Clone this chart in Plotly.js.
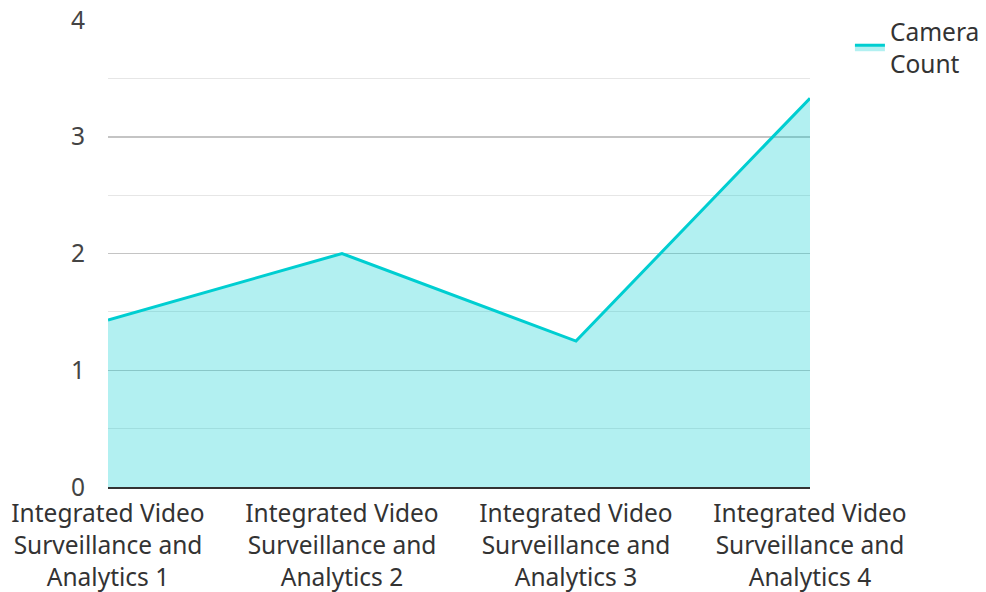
<!DOCTYPE html>
<html>
<head>
<meta charset="utf-8">
<script src="https://cdn.plot.ly/plotly-3.0.1.min.js"></script>
<style>html,body{margin:0;padding:0;background:#fff;}#chart{width:986px;height:592px;}</style>
</head>
<body>
<div id="chart"></div>
<script>
const categories = [
  "Integrated Video<br>Surveillance and<br>Analytics 1",
  "Integrated Video<br>Surveillance and<br>Analytics 2",
  "Integrated Video<br>Surveillance and<br>Analytics 3",
  "Integrated Video<br>Surveillance and<br>Analytics 4"
];
const cameraCount = [1.43, 2.0, 1.25, 3.33];
const seriesName = "Camera<br>Count";
const yTicks = [0, 1, 2, 3, 4];

const trace = {
  x: categories,
  y: cameraCount,
  type: "scatter",
  mode: "lines",
  name: seriesName,
  fill: "tozeroy",
  fillcolor: "rgba(0,206,209,0.3)",
  line: {color: "#00CED1", width: 3}
};

const layout = {
  width: 986,
  height: 592,
  margin: {l: 108, r: 176, t: 20, b: 105},
  paper_bgcolor: "#fff",
  plot_bgcolor: "#fff",
  font: {family: "Noto Sans, Open Sans, sans-serif", size: 24.5, color: "#444"},
  showlegend: true,
  legend: {xref: "container", yref: "container", x: 0.862, y: 0.985, xanchor: "left", yanchor: "top",
           font: {size: 24.5, color: "#333"}, bgcolor: "rgba(0,0,0,0)"},
  xaxis: {
    type: "category",
    range: [0, 3],
    automargin: false,
    showgrid: false,
    showline: true,
    linecolor: "#333",
    linewidth: 2,
    ticks: "",
    tickfont: {size: 24.5, color: "#333"},
    ticklabelstandoff: 4,
    zeroline: false
  },
  yaxis: {
    range: [0, 4],
    automargin: false,
    tickvals: yTicks,
    ticktext: yTicks.map(String),
    showgrid: true,
    gridcolor: "#c4c4c4",
    gridwidth: 1.5,
    minor: {dtick: 0.5, showgrid: true, gridcolor: "#e6e6e6", gridwidth: 1},
    zeroline: false,
    showline: false,
    ticks: "",
    ticklabelstandoff: 22,
    tickfont: {size: 24.5, color: "#444"}
  }
};

Plotly.newPlot("chart", [trace], layout, {displayModeBar: false, staticPlot: true});
</script>
</body>
</html>
